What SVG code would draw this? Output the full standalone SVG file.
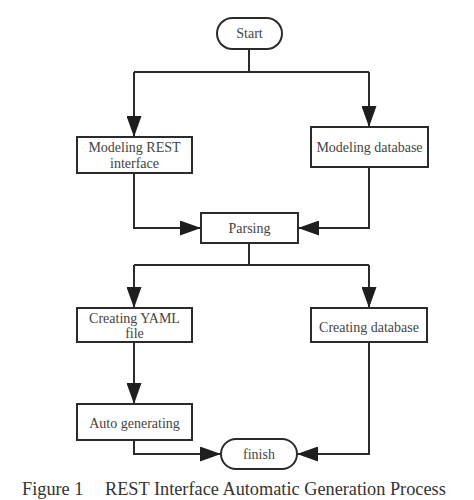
<svg xmlns="http://www.w3.org/2000/svg" width="474" height="500" viewBox="0 0 474 500">
<style>
.box{fill:#fff;stroke:#2b2b2b;stroke-width:2}
.lbl{font-family:"Liberation Serif","Times New Roman",serif;font-size:14px;fill:#444;text-anchor:middle}
.cap{font-family:"Liberation Serif","Times New Roman",serif;font-size:18.3px;fill:#333}
.ln{fill:none;stroke:#2b2b2b;stroke-width:2}
</style>
<defs>
<marker id="ah" markerUnits="userSpaceOnUse" markerWidth="21" markerHeight="15" refX="21" refY="7.5" orient="auto">
<path d="M0,0 L21,7.5 L0,15 Z" fill="#1e1e1e"/>
</marker>
</defs>
<rect width="474" height="500" fill="#fff"/>
<g id="connectors">
<path class="ln" d="M249,49 V72"/>
<path class="ln" d="M134,72 H369"/>
<path class="ln" d="M134,72 V137" marker-end="url(#ah)"/>
<path class="ln" d="M369,72 V127" marker-end="url(#ah)"/>
<path class="ln" d="M134,173 V228 H201" marker-end="url(#ah)"/>
<path class="ln" d="M369,167 V228 H298" marker-end="url(#ah)"/>
<path class="ln" d="M249,243 V265"/>
<path class="ln" d="M134,265 H369"/>
<path class="ln" d="M134,265 V308" marker-end="url(#ah)"/>
<path class="ln" d="M369,265 V308" marker-end="url(#ah)"/>
<path class="ln" d="M134,342 V404" marker-end="url(#ah)"/>
<path class="ln" d="M134,440 V454 H221" marker-end="url(#ah)"/>
<path class="ln" d="M369,342 V454 H297" marker-end="url(#ah)"/>
</g>
<g id="start">
<rect class="box" x="217" y="18" width="65" height="31" rx="15.5"/>
<text class="lbl" x="249.5" y="38">Start</text>
</g>
<g id="modeling-rest">
<rect class="box" x="77" y="137" width="115" height="36"/>
<text class="lbl" x="134.5" y="152">Modeling REST</text>
<text class="lbl" x="134.5" y="168">interface</text>
</g>
<g id="modeling-db">
<rect class="box" x="311" y="127" width="117" height="40"/>
<text class="lbl" x="369.5" y="152">Modeling database</text>
</g>
<g id="parsing">
<rect class="box" x="201" y="213" width="97" height="30"/>
<text class="lbl" x="249.5" y="233">Parsing</text>
</g>
<g id="creating-yaml">
<rect class="box" x="77" y="308" width="115" height="34"/>
<text class="lbl" x="134.5" y="323">Creating YAML</text>
<text class="lbl" x="134.5" y="338">file</text>
</g>
<g id="creating-db">
<rect class="box" x="311" y="308" width="116" height="34"/>
<text class="lbl" x="369" y="332">Creating database</text>
</g>
<g id="auto-generating">
<rect class="box" x="77" y="404" width="115" height="36"/>
<text class="lbl" x="134.5" y="428">Auto generating</text>
</g>
<g id="finish">
<rect class="box" x="221" y="439" width="76" height="30" rx="15"/>
<text class="lbl" x="259" y="459">finish</text>
</g>
<text class="cap" x="22" y="495">Figure 1<tspan x="105">REST Interface Automatic Generation Process</tspan></text>
</svg>
